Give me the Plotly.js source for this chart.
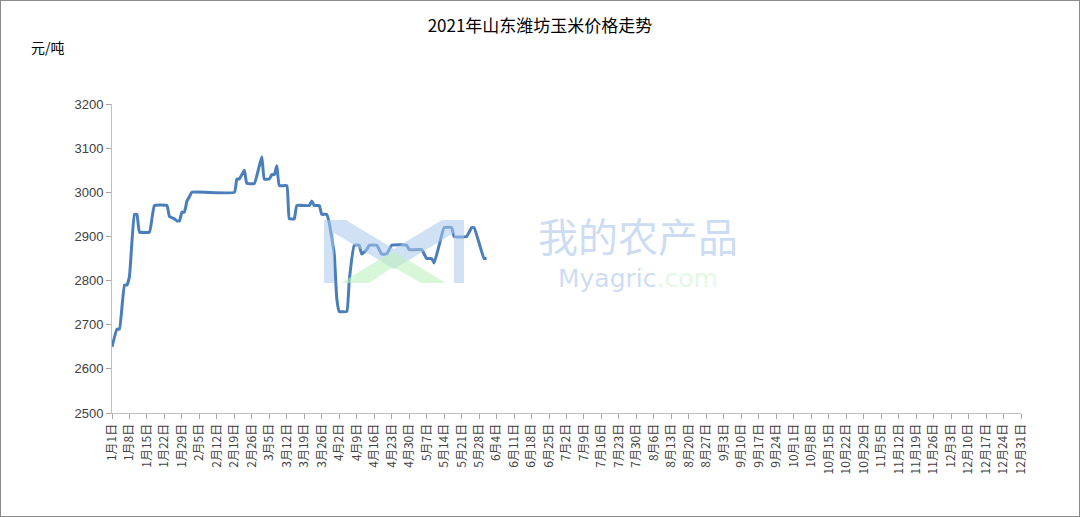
<!DOCTYPE html>
<html>
<head>
<meta charset="utf-8">
<script src="https://cdn.plot.ly/plotly-3.0.1.min.js"></script>
<style>
html,body{margin:0;padding:0;background:#fff;}
#chart{width:1078px;height:515px;border:1px solid #8c8c8c;}
</style>
</head>
<body>
<div id="chart"></div>
<script>
// ---- data ----
var dates = [
 '2021-01-01','2021-01-03','2021-01-04','2021-01-06','2021-01-07','2021-01-08','2021-01-10','2021-01-11',
 '2021-01-12','2021-01-16','2021-01-18','2021-01-23','2021-01-24','2021-01-26','2021-01-27','2021-01-28',
 '2021-01-29','2021-01-30','2021-01-31','2021-02-01','2021-02-02','2021-02-19','2021-02-20','2021-02-21',
 '2021-02-23','2021-02-24','2021-02-27','2021-03-01','2021-03-02','2021-03-03','2021-03-05','2021-03-06',
 '2021-03-07','2021-03-08','2021-03-09','2021-03-12','2021-03-13','2021-03-15','2021-03-16','2021-03-21',
 '2021-03-22','2021-03-23','2021-03-25','2021-03-26','2021-03-28','2021-03-29','2021-03-31','2021-04-01',
 '2021-04-02','2021-04-05','2021-04-06','2021-04-08','2021-04-10','2021-04-11','2021-04-13','2021-04-14',
 '2021-04-17','2021-04-19','2021-04-21','2021-04-23','2021-04-29','2021-04-30','2021-05-05','2021-05-07',
 '2021-05-09','2021-05-10','2021-05-12','2021-05-14','2021-05-17','2021-05-18','2021-05-23','2021-05-25',
 '2021-05-26','2021-05-28','2021-05-30','2021-05-31'
];
var prices = [
 2650,2690,2690,2790,2790,2810,2950,2950,
 2910,2910,2970,2970,2945,2940,2935,2935,
 2955,2955,2980,2990,3000,3000,3030,3030,
 3050,3020,3020,3060,3080,3030,3030,3040,
 3040,3060,3015,3015,2940,2940,2970,2970,
 2980,2970,2970,2950,2950,2930,2860,2760,
 2730,2730,2800,2880,2880,2860,2870,2880,
 2880,2860,2860,2880,2880,2870,2870,2850,
 2850,2840,2880,2920,2920,2900,2900,2920,
 2920,2885,2850,2850
];
var tickDates = [
 '2021-01-01','2021-01-08','2021-01-15','2021-01-22','2021-01-29',
 '2021-02-05','2021-02-12','2021-02-19','2021-02-26',
 '2021-03-05','2021-03-12','2021-03-19','2021-03-26',
 '2021-04-02','2021-04-09','2021-04-16','2021-04-23','2021-04-30',
 '2021-05-07','2021-05-14','2021-05-21','2021-05-28',
 '2021-06-04','2021-06-11','2021-06-18','2021-06-25',
 '2021-07-02','2021-07-09','2021-07-16','2021-07-23','2021-07-30',
 '2021-08-06','2021-08-13','2021-08-20','2021-08-27',
 '2021-09-03','2021-09-10','2021-09-17','2021-09-24',
 '2021-10-01','2021-10-08','2021-10-15','2021-10-22','2021-10-29',
 '2021-11-05','2021-11-12','2021-11-19','2021-11-26',
 '2021-12-03','2021-12-10','2021-12-17','2021-12-24','2021-12-31'
];
var tickLabels = [
 '1月1日','1月8日','1月15日','1月22日','1月29日',
 '2月5日','2月12日','2月19日','2月26日',
 '3月5日','3月12日','3月19日','3月26日',
 '4月2日','4月9日','4月16日','4月23日','4月30日',
 '5月7日','5月14日','5月21日','5月28日',
 '6月4日','6月11日','6月18日','6月25日',
 '7月2日','7月9日','7月16日','7月23日','7月30日',
 '8月6日','8月13日','8月20日','8月27日',
 '9月3日','9月10日','9月17日','9月24日',
 '10月1日','10月8日','10月15日','10月22日','10月29日',
 '11月5日','11月12日','11月19日','11月26日',
 '12月3日','12月10日','12月17日','12月24日','12月31日'
];
var yTicks = [2500,2600,2700,2800,2900,3000,3100,3200];

// ---- layout helpers (pixel -> paper) ----
var L = 111, T = 103, W = 909, H = 309;
function px(x){ return (x - L) / W; }
function py(y){ return (T + H - y) / H; }
function path(pts){
  return 'M' + pts.map(function(p){ return px(p[0]).toFixed(4) + ',' + py(p[1]).toFixed(4); }).join('L') + 'Z';
}

var logoBlue = 'rgba(170,200,236,0.55)';
var logoGreen = 'rgba(190,240,190,0.6)';

var shapes = [
  // M logo (watermark)
  {type:'path', xref:'paper', yref:'paper', line:{width:0}, fillcolor:logoBlue,
   path: path([[323,219],[345,219],[393,248],[441,219],[463,219],[463,282],[453,282],[453,232],[393,268],[333,232],[333,282],[323,282]])},
  {type:'path', xref:'paper', yref:'paper', line:{width:0}, fillcolor:logoGreen,
   path: path([[340,282],[392,250],[445,282],[420,282],[392,266],[368,282]])}
];

var annotations = [
  {text:'元/吨', xref:'paper', yref:'paper', x:px(28), y:py(46), xanchor:'left', yanchor:'middle',
   showarrow:false, font:{family:'Noto Sans CJK SC', size:14, color:'#000'}},
  {text:'我的农产品', xref:'paper', yref:'paper', x:px(637), y:py(234), xanchor:'center', yanchor:'middle',
   showarrow:false, font:{family:'Noto Sans CJK SC', size:40, color:'rgba(160,192,234,0.55)'}},
  {text:'Myagric<span style="color:rgba(180,240,180,0.7)">.com</span>', xref:'paper', yref:'paper', x:px(637), y:py(277), xanchor:'center', yanchor:'middle',
   showarrow:false, font:{family:'Verdana, DejaVu Sans', size:25, color:'rgba(160,192,234,0.55)'}}
];

var trace = {
  x: dates, y: prices, type:'scatter', mode:'lines',
  line:{color:'#4a7ebb', width:3, shape:'spline', smoothing:0.35},
  hoverinfo:'x+y'
};

var layout = {
  width:1078, height:515,
  margin:{l:L, r:1078-L-W, t:T, b:515-T-H, pad:0},
  paper_bgcolor:'#fff', plot_bgcolor:'rgba(0,0,0,0)',
  showlegend:false,
  title:{text:'2021年山东潍坊玉米价格走势', x:0.5, xanchor:'center', y:1-25/515, yanchor:'middle',
         font:{family:'Noto Sans CJK SC', size:17, color:'#000'}},
  xaxis:{type:'date', range:['2021-01-01','2021-12-31'], tickmode:'array', tickvals:tickDates, ticktext:tickLabels,
         tickangle:-90, ticks:'outside', ticklen:5, tickcolor:'#a6a6a6', showline:true, linecolor:'#bfbfbf', linewidth:1,
         showgrid:false, zeroline:false, tickfont:{family:'Noto Sans CJK SC', size:12, color:'#404040'}},
  yaxis:{range:[2500,3200], tickmode:'array', tickvals:yTicks, ticks:'outside', ticklen:5, tickcolor:'#a6a6a6',
         showline:true, linecolor:'#bfbfbf', linewidth:1, showgrid:false, zeroline:false,
         tickfont:{family:'Liberation Sans', size:13, color:'#404040'}},
  shapes: shapes,
  annotations: annotations
};

Plotly.newPlot('chart', [trace], layout, {displayModeBar:false, staticPlot:true});
</script>
</body>
</html>
